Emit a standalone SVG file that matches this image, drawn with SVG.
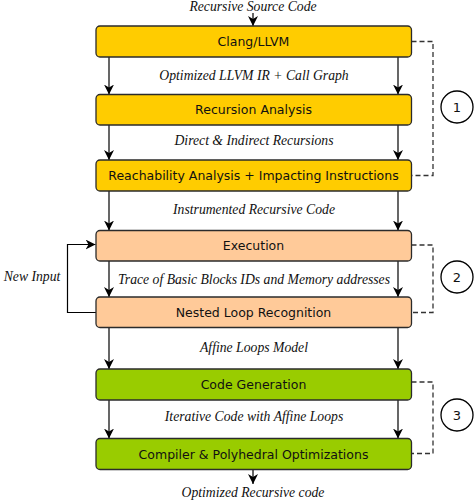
<svg xmlns="http://www.w3.org/2000/svg" width="474" height="502" viewBox="0 0 474 502">
<defs>
<marker id="ah" viewBox="0 0 10 10" refX="10" refY="5" markerWidth="10" markerHeight="10" markerUnits="userSpaceOnUse" orient="auto">
<path d="M0,0 L10,5 L0,10 L3,5 Z" fill="#000"/>
</marker>
<style>
.box{stroke:#2b2b2b;stroke-width:1.3}
.y{fill:#FFCC00}
.o{fill:#FFCA99}
.g{fill:#99CC00}
.bt{font-family:"DejaVu Sans",sans-serif;font-size:12.5px;fill:#111;text-anchor:middle}
.lb{font-family:"Liberation Serif",serif;font-style:italic;font-size:13.7px;fill:#111;text-anchor:middle}
.ln{stroke:#000;stroke-width:1.2;fill:none}
.ar{stroke:#000;stroke-width:1.2;fill:none;marker-end:url(#ah)}
.dash{stroke:#333;stroke-width:1.3;fill:none;stroke-dasharray:5,3}
.cc{fill:#fff;stroke:#000;stroke-width:1.3}
.ct{font-family:"DejaVu Sans",sans-serif;font-size:13px;fill:#111;text-anchor:middle}
</style>
</defs>
<g id="connectors">
<path class="ar" d="M253,13 V26"/>
<path class="ar" d="M109,57 V94.5"/>
<path class="ar" d="M398,57 V94.5"/>
<path class="ar" d="M109,125 V160"/>
<path class="ar" d="M398,125 V160"/>
<path class="ar" d="M109,191 V230.5"/>
<path class="ar" d="M398,191 V230.5"/>
<path class="ar" d="M109,261 V297"/>
<path class="ar" d="M398,261 V297"/>
<path class="ar" d="M109,327 V369"/>
<path class="ar" d="M398,327 V369"/>
<path class="ar" d="M109,400 V438.5"/>
<path class="ar" d="M398,400 V438.5"/>
<path class="ar" d="M253,470 V484"/>
<path class="ar" d="M96,312.5 H67.5 V244.5 H95.5"/>
<path class="dash" d="M411.5,41.5 H433 V175.5 H411.5"/>
<path class="dash" d="M411.5,245 H433 V312.5 H411.5"/>
<path class="dash" d="M411.5,382 H433 V453.5 H411.5"/>
<text class="lb" x="253" y="11">Recursive Source Code</text>
<text class="lb" x="254" y="80">Optimized LLVM IR + Call Graph</text>
<text class="lb" x="254" y="145">Direct &amp; Indirect Recursions</text>
<text class="lb" x="254" y="214">Instrumented Recursive Code</text>
<text class="lb" x="254" y="284">Trace of Basic Blocks IDs and Memory addresses</text>
<text class="lb" x="32" y="281">New Input</text>
<text class="lb" x="254" y="352">Affine Loops Model</text>
<text class="lb" x="254" y="421">Iterative Code with Affine Loops</text>
<text class="lb" x="253" y="497">Optimized Recursive code</text>
</g>
<g id="n1"><rect class="box y" x="96" y="26" width="315.5" height="31" rx="4"/><text class="bt" x="253.5" y="46">Clang/LLVM</text></g>
<g id="n2"><rect class="box y" x="96" y="94.5" width="315.5" height="30.5" rx="4"/><text class="bt" x="253.5" y="114">Recursion Analysis</text></g>
<g id="n3"><rect class="box y" x="96" y="160" width="315.5" height="31" rx="4"/><text class="bt" x="253.5" y="180">Reachability Analysis + Impacting Instructions</text></g>
<g id="n4"><rect class="box o" x="96" y="230.5" width="315.5" height="30.5" rx="4"/><text class="bt" x="253.5" y="250">Execution</text></g>
<g id="n5"><rect class="box o" x="96" y="297" width="315.5" height="30.5" rx="4"/><text class="bt" x="253.5" y="317">Nested Loop Recognition</text></g>
<g id="n6"><rect class="box g" x="96" y="369" width="315.5" height="31" rx="4"/><text class="bt" x="253.5" y="389">Code Generation</text></g>
<g id="n7"><rect class="box g" x="96" y="438.5" width="315.5" height="31" rx="4"/><text class="bt" x="253.5" y="459">Compiler &amp; Polyhedral Optimizations</text></g>
<g id="c1"><circle class="cc" cx="457" cy="107" r="16"/><text class="ct" x="457" y="112">1</text></g>
<g id="c2"><circle class="cc" cx="457" cy="277" r="16"/><text class="ct" x="457" y="282">2</text></g>
<g id="c3"><circle class="cc" cx="457" cy="415" r="16"/><text class="ct" x="457" y="420">3</text></g>
</svg>
